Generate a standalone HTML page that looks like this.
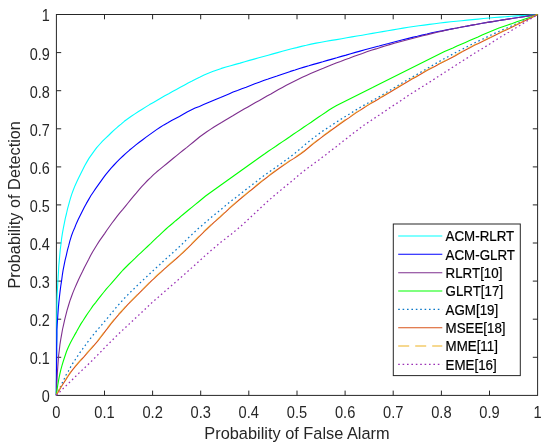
<!DOCTYPE html><html><head><meta charset="utf-8"><title>ROC</title><style>html,body{margin:0;padding:0;background:#fff}svg{display:block}text{font-family:"Liberation Sans",Arial,sans-serif;fill:#262626}.lg text{fill:#000;stroke:#000;stroke-width:.2px}</style></head><body>
<svg width="550" height="446" viewBox="0 0 550 446">
<rect width="550" height="446" fill="#fff"/>
<g stroke="#262626" stroke-width="1" fill="none">
<rect x="56.4" y="14.5" width="481.2" height="380.9"/>
<path d="M104.5,395.4 v-4.8 M104.5,14.5 v4.8"/>
<path d="M56.4,357.3 h4.8 M537.6,357.3 h-4.8"/>
<path d="M152.6,395.4 v-4.8 M152.6,14.5 v4.8"/>
<path d="M56.4,319.2 h4.8 M537.6,319.2 h-4.8"/>
<path d="M200.7,395.4 v-4.8 M200.7,14.5 v4.8"/>
<path d="M56.4,281.1 h4.8 M537.6,281.1 h-4.8"/>
<path d="M248.8,395.4 v-4.8 M248.8,14.5 v4.8"/>
<path d="M56.4,243.0 h4.8 M537.6,243.0 h-4.8"/>
<path d="M297.0,395.4 v-4.8 M297.0,14.5 v4.8"/>
<path d="M56.4,204.9 h4.8 M537.6,204.9 h-4.8"/>
<path d="M345.1,395.4 v-4.8 M345.1,14.5 v4.8"/>
<path d="M56.4,166.9 h4.8 M537.6,166.9 h-4.8"/>
<path d="M393.2,395.4 v-4.8 M393.2,14.5 v4.8"/>
<path d="M56.4,128.8 h4.8 M537.6,128.8 h-4.8"/>
<path d="M441.4,395.4 v-4.8 M441.4,14.5 v4.8"/>
<path d="M56.4,90.7 h4.8 M537.6,90.7 h-4.8"/>
<path d="M489.5,395.4 v-4.8 M489.5,14.5 v4.8"/>
<path d="M56.4,52.6 h4.8 M537.6,52.6 h-4.8"/>
</g>
<g fill="none" stroke-width="1.1" stroke-linejoin="round">
<path d="M56.3,395.3 L56.3,389.3 L56.4,383.4 L56.4,377.4 L56.5,371.5 L56.5,365.5 L56.5,359.5 L56.6,353.6 L56.6,347.6 L56.7,341.7 L56.7,335.7 L56.7,329.7 L56.8,323.7 L56.8,317.7 L56.9,311.7 L56.9,305.9 L57.0,300.0 L57.2,294.2 L57.5,288.5 L57.8,282.8 L58.1,277.1 L58.5,271.5 L58.8,265.8 L59.3,260.3 L59.8,254.8 L60.3,249.3 L61.0,244.0 L61.6,238.6 L62.4,233.4 L63.3,228.3 L64.3,223.3 L65.3,218.3 L66.5,213.5 L67.6,208.6 L68.9,203.9 L70.2,199.2 L71.6,194.6 L73.2,190.2 L74.9,185.9 L76.8,181.8 L78.7,177.7 L80.7,173.7 L82.7,169.7 L84.7,165.7 L86.9,161.9 L89.1,158.1 L91.6,154.6 L94.1,151.1 L96.7,147.7 L99.5,144.5 L102.3,141.3 L105.4,138.4 L108.5,135.5 L111.5,132.5 L114.6,129.6 L117.8,126.8 L121.1,124.1 L124.3,121.3 L127.8,118.8 L131.3,116.3 L134.9,113.9 L138.5,111.5 L142.2,109.2 L145.9,106.9 L149.6,104.6 L153.4,102.4 L157.2,100.2 L161.0,98.0 L164.8,95.8 L168.7,93.7 L172.5,91.5 L176.4,89.4 L180.3,87.3 L184.2,85.2 L188.1,83.1 L192.1,81.1 L196.0,79.0 L200.1,77.1 L204.1,75.1 L208.3,73.3 L212.6,71.6 L217.0,70.0 L221.4,68.4 L226.0,67.0 L230.7,65.7 L235.4,64.4 L240.1,63.1 L244.7,61.7 L249.4,60.4 L254.1,59.1 L258.8,57.8 L263.5,56.5 L268.2,55.2 L272.9,53.9 L277.6,52.6 L282.3,51.3 L287.0,50.0 L291.7,48.7 L296.6,47.6 L301.4,46.4 L306.3,45.3 L311.1,44.1 L316.1,43.1 L321.2,42.2 L326.3,41.3 L331.4,40.4 L336.6,39.6 L341.7,38.7 L346.8,37.8 L351.9,36.9 L357.0,36.0 L362.2,35.2 L367.3,34.3 L372.4,33.4 L377.5,32.5 L382.6,31.6 L387.8,30.8 L392.9,29.9 L398.0,29.0 L403.1,28.1 L408.3,27.3 L413.5,26.5 L418.8,25.8 L424.1,25.1 L429.4,24.4 L434.7,23.7 L440.0,23.0 L445.4,22.4 L450.8,21.8 L456.2,21.2 L461.7,20.7 L467.1,20.1 L472.6,19.6 L478.1,19.1 L483.5,18.5 L489.0,18.0 L494.5,17.5 L500.1,17.1 L505.7,16.7 L511.3,16.3 L516.9,15.9 L522.6,15.6 L528.2,15.2 L533.8,14.8 L537.5,14.6" stroke="#00ffff"/>
<path d="M56.3,395.3 L56.4,389.4 L56.4,383.4 L56.5,377.5 L56.5,371.5 L56.6,365.6 L56.6,359.6 L56.7,353.7 L56.7,347.7 L56.8,341.8 L56.9,335.8 L56.9,329.9 L57.2,324.2 L57.6,318.6 L58.0,313.0 L58.4,307.4 L58.9,301.9 L59.5,296.5 L60.1,291.1 L60.8,285.8 L61.6,280.6 L62.3,275.3 L63.1,270.1 L64.1,265.1 L65.1,260.1 L66.3,255.3 L67.4,250.4 L68.7,245.7 L69.9,240.9 L71.3,236.3 L72.9,231.9 L74.7,227.7 L76.4,223.4 L78.3,219.3 L80.3,215.3 L82.3,211.3 L84.3,207.3 L86.4,203.4 L88.6,199.6 L90.8,195.8 L93.2,192.2 L95.6,188.6 L98.1,185.1 L100.6,181.6 L103.1,178.1 L105.7,174.7 L108.4,171.4 L111.1,168.1 L114.0,165.0 L116.9,161.9 L119.9,158.9 L123.0,156.0 L126.1,153.1 L129.3,150.3 L132.6,147.6 L135.9,144.9 L139.3,142.3 L142.7,139.7 L146.1,137.1 L149.6,134.6 L153.1,132.1 L156.6,129.6 L160.2,127.2 L163.9,124.9 L167.8,122.8 L171.6,120.6 L175.5,118.5 L179.4,116.4 L183.2,114.2 L187.1,112.1 L191.1,110.1 L195.1,108.1 L199.4,106.4 L203.6,104.6 L207.8,102.8 L212.0,101.0 L216.2,99.2 L220.5,97.5 L224.7,95.7 L228.9,93.9 L233.1,92.1 L237.5,90.5 L241.8,88.8 L246.2,87.2 L250.5,85.5 L254.8,83.8 L259.2,82.2 L263.6,80.6 L268.1,79.1 L272.5,77.5 L277.0,76.0 L281.4,74.4 L285.9,72.9 L290.4,71.4 L295.0,70.0 L299.5,68.5 L304.1,67.1 L308.8,65.8 L313.4,64.4 L318.1,63.1 L322.8,61.8 L327.4,60.4 L332.1,59.1 L336.8,57.8 L341.4,56.4 L346.1,55.1 L350.7,53.7 L355.4,52.4 L360.1,51.1 L364.8,49.8 L369.5,48.5 L374.2,47.2 L379.0,46.0 L383.7,44.7 L388.5,43.5 L393.2,42.2 L398.0,41.0 L402.8,39.8 L407.6,38.6 L412.4,37.4 L417.3,36.3 L422.1,35.1 L427.0,34.0 L431.8,32.8 L436.8,31.8 L441.9,30.9 L446.9,29.9 L451.9,28.9 L457.0,28.0 L462.0,27.0 L467.1,26.1 L472.1,25.1 L477.2,24.2 L482.3,23.3 L487.4,22.4 L492.6,21.6 L497.8,20.8 L502.9,19.9 L508.1,19.1 L513.3,18.3 L518.5,17.5 L523.7,16.7 L528.9,15.9 L534.1,15.1 L537.5,14.6" stroke="#0000ff"/>
<path d="M56.3,395.3 L56.6,389.6 L56.8,383.8 L57.1,378.1 L57.4,372.4 L57.8,366.8 L58.2,361.2 L58.6,355.6 L59.3,350.3 L59.9,344.9 L60.7,339.7 L61.6,334.6 L62.5,329.5 L63.6,324.6 L64.7,319.7 L65.9,314.9 L67.1,310.1 L68.5,305.5 L69.9,300.9 L71.5,296.5 L73.1,292.1 L74.9,287.9 L76.7,283.7 L78.6,279.6 L80.5,275.5 L82.5,271.5 L84.4,267.4 L86.5,263.5 L88.6,259.6 L90.6,255.6 L92.7,251.7 L95.0,248.0 L97.3,244.3 L99.6,240.6 L102.1,237.1 L104.6,233.6 L107.0,230.0 L109.5,226.5 L112.0,223.0 L114.6,219.6 L117.2,216.2 L119.8,212.8 L122.6,209.6 L125.3,206.3 L128.0,203.0 L130.7,199.7 L133.4,196.4 L136.2,193.2 L138.9,189.9 L141.7,186.7 L144.6,183.6 L147.5,180.5 L150.6,177.6 L153.6,174.6 L156.8,171.8 L160.1,169.1 L163.4,166.4 L166.7,163.7 L170.0,161.0 L173.3,158.3 L176.6,155.6 L179.9,152.9 L183.2,150.2 L186.6,147.6 L189.9,144.9 L193.2,142.2 L196.5,139.5 L199.8,136.8 L203.3,134.3 L206.8,131.8 L210.4,129.4 L214.0,127.0 L217.7,124.7 L221.5,122.5 L225.2,120.2 L229.0,118.0 L232.8,115.8 L236.5,113.5 L240.3,111.3 L244.1,109.1 L247.9,106.9 L251.7,104.7 L255.5,102.5 L259.4,100.4 L263.2,98.2 L267.0,96.0 L270.9,93.9 L274.7,91.7 L278.5,89.5 L282.4,87.4 L286.3,85.3 L290.3,83.3 L294.3,81.3 L298.3,79.3 L302.3,77.3 L306.4,75.4 L310.6,73.6 L314.8,71.8 L319.0,70.0 L323.3,68.3 L327.5,66.5 L331.8,64.8 L336.1,63.1 L340.5,61.5 L344.8,59.8 L349.2,58.2 L353.5,56.5 L357.9,54.9 L362.4,53.4 L366.8,51.8 L371.3,50.3 L375.9,48.9 L380.4,47.4 L385.0,46.0 L389.6,44.6 L394.3,43.3 L399.0,42.0 L403.7,40.7 L408.5,39.5 L413.3,38.3 L418.0,37.0 L422.8,35.8 L427.6,34.6 L432.4,33.4 L437.2,32.2 L442.1,31.1 L447.0,30.0 L452.0,29.0 L457.0,28.0 L462.0,27.0 L467.0,26.0 L472.1,25.1 L477.2,24.2 L482.3,23.3 L487.4,22.4 L492.6,21.6 L497.8,20.8 L502.9,19.9 L508.1,19.1 L513.3,18.3 L518.5,17.5 L523.7,16.7 L528.9,15.9 L534.1,15.1 L537.5,14.6" stroke="#7e2f8e"/>
<path d="M56.3,395.3 L57.0,390.0 L57.8,384.8 L58.7,379.7 L59.7,374.7 L60.8,369.8 L62.1,365.1 L63.5,360.5 L65.0,356.0 L66.5,351.5 L68.3,347.3 L70.2,343.2 L72.3,339.3 L74.4,335.4 L76.6,331.6 L78.7,327.7 L80.9,323.9 L83.3,320.3 L85.6,316.6 L88.0,313.0 L90.5,309.5 L92.9,305.9 L95.6,302.6 L98.2,299.2 L100.8,295.8 L103.5,292.5 L106.2,289.2 L109.0,286.0 L111.8,282.8 L114.6,279.6 L117.4,276.4 L120.2,273.2 L123.0,270.0 L126.0,267.0 L129.0,264.0 L132.1,261.1 L135.2,258.2 L138.2,255.2 L141.3,252.3 L144.4,249.4 L147.5,246.5 L150.6,243.6 L153.6,240.6 L156.7,237.7 L159.8,234.8 L162.9,231.9 L166.0,229.0 L169.2,226.2 L172.5,223.5 L175.7,220.7 L179.0,218.0 L182.2,215.2 L185.5,212.5 L188.8,209.8 L192.1,207.1 L195.4,204.4 L198.7,201.7 L202.0,199.0 L205.3,196.3 L208.7,193.7 L212.2,191.2 L215.7,188.7 L219.2,186.2 L222.7,183.7 L226.2,181.2 L229.7,178.7 L233.2,176.2 L236.7,173.7 L240.2,171.2 L243.7,168.7 L247.2,166.2 L250.7,163.7 L254.2,161.2 L257.7,158.7 L261.2,156.2 L264.8,153.8 L268.3,151.3 L271.9,148.9 L275.5,146.5 L279.0,144.0 L282.6,141.6 L286.2,139.2 L289.8,136.8 L293.3,134.3 L296.9,131.9 L300.5,129.5 L304.0,127.0 L307.6,124.6 L311.2,122.2 L314.7,119.7 L318.3,117.3 L321.9,114.9 L325.5,112.5 L329.0,110.0 L332.7,107.7 L336.6,105.6 L340.6,103.6 L344.6,101.6 L348.6,99.6 L352.6,97.6 L356.6,95.6 L360.6,93.6 L364.6,91.6 L368.6,89.6 L372.6,87.6 L376.5,85.5 L380.5,83.5 L384.5,81.5 L388.5,79.5 L392.5,77.5 L396.5,75.5 L400.5,73.5 L404.5,71.5 L408.5,69.5 L412.5,67.5 L416.5,65.5 L420.5,63.5 L424.5,61.5 L428.5,59.5 L432.5,57.5 L436.5,55.5 L440.5,53.5 L444.5,51.5 L448.7,49.7 L452.9,47.9 L457.0,46.0 L461.2,44.2 L465.4,42.4 L469.6,40.6 L473.8,38.8 L478.0,37.0 L482.1,35.1 L486.3,33.3 L490.5,31.5 L494.7,29.7 L499.0,28.0 L503.4,26.4 L507.9,24.9 L512.4,23.4 L516.8,21.8 L521.3,20.3 L525.7,18.7 L530.2,17.2 L534.6,15.6 L537.5,14.6" stroke="#00ff00"/>
<path d="M56.3,395.3 L58.2,391.2 L60.2,387.2 L62.1,383.1 L64.1,379.1 L66.0,375.0 L68.3,371.3 L70.4,367.4 L72.6,363.6 L75.0,360.0 L77.4,356.4 L79.8,352.8 L82.3,349.3 L84.9,345.9 L87.4,342.4 L90.0,339.0 L92.7,335.7 L95.3,332.3 L98.1,329.1 L100.9,325.9 L103.6,322.6 L106.4,319.4 L109.1,316.1 L111.8,312.8 L114.5,309.5 L117.2,306.2 L120.1,303.1 L122.9,299.9 L125.8,296.8 L128.8,293.8 L131.8,290.8 L134.9,287.9 L137.9,284.9 L141.0,282.0 L144.1,279.1 L147.2,276.2 L150.3,273.3 L153.4,270.4 L156.5,267.5 L159.7,264.7 L162.8,261.8 L165.9,258.9 L169.1,256.1 L172.2,253.2 L175.4,250.4 L178.5,247.5 L181.6,244.6 L184.6,241.6 L187.6,238.6 L190.7,235.7 L193.8,232.8 L196.8,229.8 L200.0,227.0 L203.3,224.3 L206.5,221.5 L209.7,218.7 L213.0,216.0 L216.3,213.3 L219.6,210.6 L222.9,207.9 L226.1,205.1 L229.4,202.4 L232.8,199.8 L236.2,197.2 L239.6,194.6 L242.9,191.9 L246.3,189.3 L249.7,186.7 L253.1,184.1 L256.5,181.5 L259.8,178.8 L263.2,176.2 L266.7,173.7 L270.2,171.2 L273.8,168.8 L277.3,166.3 L280.8,163.8 L284.3,161.3 L287.7,158.7 L291.2,156.2 L294.6,153.6 L297.8,150.8 L301.1,148.1 L304.3,145.3 L307.6,142.6 L310.9,139.9 L314.3,137.3 L317.7,134.7 L321.1,132.1 L324.8,129.8 L328.4,127.4 L332.0,125.0 L335.6,122.6 L339.3,120.3 L342.9,117.9 L346.7,115.7 L350.4,113.4 L354.1,111.1 L357.8,108.8 L361.6,106.6 L365.4,104.4 L369.3,102.3 L373.2,100.2 L377.1,98.1 L380.8,95.8 L384.5,93.5 L388.3,91.3 L392.0,89.0 L395.8,86.8 L399.5,84.5 L403.3,82.3 L407.1,80.1 L410.9,77.9 L414.7,75.7 L418.5,73.5 L422.3,71.3 L426.1,69.1 L429.9,66.9 L433.7,64.7 L437.5,62.5 L441.3,60.3 L445.2,58.2 L449.1,56.1 L453.0,54.0 L456.9,51.9 L460.9,49.9 L464.9,47.9 L468.8,45.8 L472.8,43.8 L476.8,41.8 L480.9,39.9 L485.0,38.0 L489.0,36.0 L493.1,34.1 L497.2,32.2 L501.3,30.3 L505.6,28.6 L509.8,26.8 L513.9,24.9 L518.1,23.1 L522.3,21.3 L526.5,19.5 L530.6,17.6 L534.8,15.8 L537.5,14.6" stroke="#0a78c8" stroke-dasharray="1.6 2.8" stroke-width="1.25"/>
<path d="M56.3,395.3 L58.5,391.5 L60.7,387.7 L63.0,384.0 L65.4,380.4 L67.7,376.7 L70.1,373.1 L72.7,369.7 L75.4,366.4 L78.2,363.2 L81.0,360.0 L83.9,356.9 L86.7,353.7 L89.5,350.5 L92.3,347.3 L95.1,344.1 L97.9,340.9 L100.5,337.5 L103.1,334.1 L105.7,330.7 L108.3,327.3 L110.9,323.9 L113.6,320.6 L116.3,317.3 L119.1,314.1 L122.0,311.0 L124.8,307.8 L127.7,304.7 L130.7,301.7 L133.7,298.7 L136.7,295.7 L139.7,292.7 L142.7,289.7 L145.7,286.7 L148.7,283.7 L151.7,280.7 L154.8,277.8 L157.9,274.9 L161.1,272.1 L164.2,269.2 L167.4,266.4 L170.6,263.6 L173.8,260.8 L177.0,258.0 L180.2,255.2 L183.3,252.3 L186.4,249.4 L189.4,246.4 L192.4,243.4 L195.4,240.4 L198.4,237.4 L201.4,234.4 L204.4,231.4 L207.5,228.5 L210.6,225.6 L213.7,222.7 L216.9,219.9 L220.1,217.1 L223.2,214.2 L226.3,211.3 L229.4,208.4 L232.6,205.6 L235.8,202.8 L239.0,200.0 L242.3,197.3 L245.6,194.6 L248.9,191.9 L252.2,189.2 L255.5,186.5 L258.8,183.8 L262.1,181.1 L265.5,178.5 L268.9,175.9 L272.3,173.3 L275.8,170.8 L279.2,168.2 L282.8,165.8 L286.4,163.4 L289.9,160.9 L293.6,158.6 L297.2,156.2 L300.8,153.8 L304.2,151.2 L307.5,148.5 L310.8,145.8 L314.1,143.1 L317.5,140.5 L320.9,137.9 L324.3,135.3 L327.8,132.8 L331.2,130.2 L334.7,127.7 L338.2,125.2 L341.7,122.7 L345.2,120.2 L348.9,117.9 L352.4,115.4 L355.9,112.9 L359.6,110.6 L363.2,108.2 L366.9,105.9 L370.6,103.6 L374.4,101.4 L378.2,99.2 L381.9,96.9 L385.7,94.7 L389.5,92.5 L393.2,90.2 L397.0,88.0 L400.7,85.7 L404.5,83.5 L408.3,81.3 L412.0,79.0 L415.9,76.9 L419.7,74.7 L423.5,72.5 L427.3,70.3 L431.2,68.2 L435.2,66.2 L439.1,64.1 L443.1,62.1 L447.1,60.1 L451.0,58.0 L454.9,55.9 L458.7,53.7 L462.6,51.6 L466.4,49.4 L470.4,47.4 L474.3,45.3 L478.4,43.4 L482.4,41.4 L486.5,39.5 L490.6,37.6 L494.6,35.6 L498.6,33.6 L502.6,31.6 L506.7,29.7 L510.7,27.7 L514.7,25.7 L518.8,23.8 L522.8,21.8 L526.8,19.8 L530.9,17.9 L534.9,15.9 L537.5,14.6" stroke="#d95319"/>
<path d="M56.0,394.9 L58.2,391.1 L60.4,387.3 L62.7,383.6 L65.1,380.0 L67.4,376.3 L69.8,372.7 L72.4,369.3 L75.1,366.0 L77.9,362.8 L80.7,359.6 L83.6,356.5 L86.4,353.3 L89.2,350.1 L92.0,346.9 L94.8,343.7 L97.6,340.5 L100.2,337.1 L102.8,333.7 L105.4,330.3 L108.0,326.9 L110.6,323.5 L113.3,320.2 L116.0,316.9 L118.8,313.7 L121.7,310.6 L124.5,307.4 L127.4,304.3 L130.4,301.3 L133.4,298.3 L136.4,295.3 L139.4,292.3 L142.4,289.3 L145.4,286.3 L148.4,283.3 L151.4,280.3 L154.5,277.4 L157.6,274.5 L160.8,271.7 L163.9,268.8 L167.1,266.0 L170.3,263.2 L173.5,260.4 L176.7,257.6 L179.9,254.8 L183.0,251.9 L186.1,249.0 L189.1,246.0 L192.1,243.0 L195.1,240.0 L198.1,237.0 L201.1,234.0 L204.1,231.0 L207.2,228.1 L210.3,225.2 L213.4,222.3 L216.6,219.5 L219.8,216.7 L222.9,213.8 L226.0,210.9 L229.1,208.0 L232.3,205.2 L235.5,202.4 L238.7,199.6 L242.0,196.9 L245.3,194.2 L248.6,191.5 L251.9,188.8 L255.2,186.1 L258.5,183.4 L261.8,180.7 L265.2,178.1 L268.6,175.5 L272.0,172.9 L275.5,170.4 L278.9,167.8 L282.5,165.4 L286.1,163.0 L289.6,160.5 L293.3,158.2 L296.9,155.8 L300.5,153.4 L303.9,150.8 L307.2,148.1 L310.5,145.4 L313.8,142.7 L317.2,140.1 L320.6,137.5 L324.0,134.9 L327.5,132.4 L330.9,129.8 L334.4,127.3 L337.9,124.8 L341.4,122.3 L344.9,119.8 L348.6,117.5 L352.1,115.0 L355.6,112.5 L359.3,110.2 L362.9,107.8 L366.6,105.5 L370.3,103.2 L374.1,101.0 L377.9,98.8 L381.6,96.5 L385.4,94.3 L389.2,92.1 L392.9,89.8 L396.7,87.6 L400.4,85.3 L404.2,83.1 L408.0,80.9 L411.7,78.6 L415.6,76.5 L419.4,74.3 L423.2,72.1 L427.0,69.9 L430.9,67.8 L434.9,65.8 L438.8,63.7 L442.8,61.7 L446.8,59.7 L450.7,57.6 L454.6,55.5 L458.4,53.3 L462.3,51.2 L466.1,49.0 L470.1,47.0 L474.0,44.9 L478.1,43.0 L482.1,41.0 L486.2,39.1 L490.3,37.2 L494.3,35.2 L498.3,33.2 L502.3,31.2 L506.4,29.3 L510.4,27.3 L514.4,25.3 L518.5,23.4 L522.5,21.4 L526.5,19.4 L530.6,17.5 L534.6,15.5 L537.2,14.2" stroke="#edb120" stroke-opacity="0.5" stroke-dasharray="11 6"/>
<path d="M56.3,395.3 L59.4,392.4 L62.4,389.4 L65.4,386.4 L68.4,383.4 L71.5,380.5 L74.5,377.5 L77.5,374.5 L80.6,371.6 L83.7,368.7 L86.8,365.8 L89.8,362.8 L92.9,359.9 L95.8,356.8 L98.8,353.8 L101.8,350.8 L104.7,347.7 L107.7,344.7 L110.7,341.7 L113.7,338.7 L116.7,335.7 L119.8,332.8 L122.9,329.9 L126.0,327.0 L129.1,324.1 L132.2,321.2 L135.3,318.3 L138.4,315.4 L141.5,312.5 L144.6,309.6 L147.7,306.7 L150.7,303.7 L153.9,300.9 L157.2,298.2 L160.3,295.3 L163.6,292.6 L166.7,289.7 L170.0,287.0 L173.2,284.2 L176.4,281.4 L179.6,278.6 L182.8,275.8 L186.0,273.0 L189.1,270.1 L192.3,267.3 L195.5,264.5 L198.6,261.6 L201.8,258.8 L204.9,255.9 L208.1,253.1 L211.3,250.3 L214.6,247.6 L217.8,244.8 L221.1,242.1 L224.5,239.5 L227.8,236.8 L231.2,234.2 L234.5,231.5 L237.8,228.8 L241.0,226.0 L244.2,223.2 L247.3,220.3 L250.4,217.4 L253.5,214.5 L256.6,211.6 L259.7,208.7 L262.8,205.8 L265.9,202.9 L269.1,200.1 L272.3,197.3 L275.5,194.5 L278.8,191.8 L282.1,189.1 L285.4,186.4 L288.7,183.7 L292.0,181.0 L295.2,178.2 L298.4,175.4 L301.7,172.7 L305.1,170.1 L308.5,167.5 L312.0,165.0 L315.4,162.4 L318.9,159.9 L322.3,157.3 L325.8,154.8 L329.1,152.1 L332.5,149.5 L335.9,146.9 L339.2,144.2 L342.6,141.6 L346.0,139.0 L349.4,136.4 L352.7,133.7 L356.1,131.1 L359.5,128.5 L362.9,125.9 L366.5,123.5 L370.1,121.1 L373.7,118.7 L377.3,116.3 L380.9,113.9 L384.5,111.5 L388.0,109.0 L391.6,106.6 L395.3,104.3 L398.9,101.9 L402.5,99.5 L406.1,97.1 L409.6,94.6 L413.3,92.3 L417.0,90.0 L420.7,87.7 L424.4,85.4 L428.1,83.1 L431.7,80.7 L435.4,78.4 L439.0,76.0 L442.7,73.7 L446.3,71.3 L450.0,69.0 L453.6,66.6 L457.3,64.3 L460.9,61.9 L464.6,59.6 L468.3,57.3 L471.9,54.9 L475.6,52.6 L479.4,50.4 L483.1,48.1 L486.8,45.8 L490.5,43.5 L494.1,41.1 L497.8,38.8 L501.4,36.4 L505.2,34.2 L509.0,32.0 L512.7,29.7 L516.5,27.5 L520.2,25.2 L523.9,22.9 L527.6,20.6 L531.4,18.4 L535.1,16.1 L537.5,14.6" stroke="#9b30b5" stroke-dasharray="1.6 2.8" stroke-width="1.25"/>
</g>
<g font-size="14.67">
<text transform="translate(56.4,417.5) scale(1,1.11)" text-anchor="middle">0</text>
<text transform="translate(49.8,402.3) scale(0.985,1.11)" text-anchor="end">0</text>
<text transform="translate(104.5,417.5) scale(1,1.11)" text-anchor="middle">0.1</text>
<text transform="translate(49.8,364.2) scale(0.985,1.11)" text-anchor="end">0.1</text>
<text transform="translate(152.6,417.5) scale(1,1.11)" text-anchor="middle">0.2</text>
<text transform="translate(49.8,326.1) scale(0.985,1.11)" text-anchor="end">0.2</text>
<text transform="translate(200.7,417.5) scale(1,1.11)" text-anchor="middle">0.3</text>
<text transform="translate(49.8,288.0) scale(0.985,1.11)" text-anchor="end">0.3</text>
<text transform="translate(248.8,417.5) scale(1,1.11)" text-anchor="middle">0.4</text>
<text transform="translate(49.8,249.9) scale(0.985,1.11)" text-anchor="end">0.4</text>
<text transform="translate(297.0,417.5) scale(1,1.11)" text-anchor="middle">0.5</text>
<text transform="translate(49.8,211.8) scale(0.985,1.11)" text-anchor="end">0.5</text>
<text transform="translate(345.1,417.5) scale(1,1.11)" text-anchor="middle">0.6</text>
<text transform="translate(49.8,173.8) scale(0.985,1.11)" text-anchor="end">0.6</text>
<text transform="translate(393.2,417.5) scale(1,1.11)" text-anchor="middle">0.7</text>
<text transform="translate(49.8,135.7) scale(0.985,1.11)" text-anchor="end">0.7</text>
<text transform="translate(441.4,417.5) scale(1,1.11)" text-anchor="middle">0.8</text>
<text transform="translate(49.8,97.6) scale(0.985,1.11)" text-anchor="end">0.8</text>
<text transform="translate(489.5,417.5) scale(1,1.11)" text-anchor="middle">0.9</text>
<text transform="translate(49.8,59.5) scale(0.985,1.11)" text-anchor="end">0.9</text>
<text transform="translate(537.6,417.5) scale(1,1.11)" text-anchor="middle">1</text>
<text transform="translate(49.8,21.4) scale(0.985,1.11)" text-anchor="end">1</text>
</g>
<text x="297" y="438.8" font-size="16.35" text-anchor="middle">Probability of False Alarm</text>
<text transform="translate(20.0,204.8) rotate(-90)" font-size="16.3" text-anchor="middle">Probability of Detection</text>
<rect x="393.3" y="224.0" width="127.0" height="151.6" fill="#fff" stroke="#262626" stroke-width="1"/>
<g font-size="13.2" class="lg">
<path d="M398.2,236.0 H442.3" fill="none" stroke="#00ffff" stroke-width="1.1" />
<text transform="translate(445.6,241.2) scale(1.01,1.04)">ACM-RLRT</text>
<path d="M398.2,254.3 H442.3" fill="none" stroke="#0000ff" stroke-width="1.1" />
<text transform="translate(445.6,259.5) scale(1.01,1.04)">ACM-GLRT</text>
<path d="M398.2,272.7 H442.3" fill="none" stroke="#7e2f8e" stroke-width="1.1" />
<text transform="translate(445.6,277.9) scale(1.01,1.04)">RLRT[10]</text>
<path d="M398.2,291.0 H442.3" fill="none" stroke="#00ff00" stroke-width="1.1" />
<text transform="translate(445.6,296.2) scale(1.01,1.04)">GLRT[17]</text>
<path d="M398.2,309.3 H442.3" fill="none" stroke="#0a78c8" stroke-dasharray="1.6 2.8" stroke-width="1.25"/>
<text transform="translate(445.6,314.5) scale(1.01,1.04)">AGM[19]</text>
<path d="M398.2,327.7 H442.3" fill="none" stroke="#d95319" stroke-width="1.1" />
<text transform="translate(445.6,332.9) scale(1.01,1.04)">MSEE[18]</text>
<path d="M398.2,346.0 H442.3" fill="none" stroke="#edb120" stroke-width="1.1" stroke-dasharray="11 6"/>
<text transform="translate(445.6,351.2) scale(1.01,1.04)">MME[11]</text>
<path d="M398.2,364.3 H442.3" fill="none" stroke="#9b30b5" stroke-dasharray="1.6 2.8" stroke-width="1.25"/>
<text transform="translate(445.6,369.5) scale(1.01,1.04)">EME[16]</text>
</g>
</svg></body></html>
